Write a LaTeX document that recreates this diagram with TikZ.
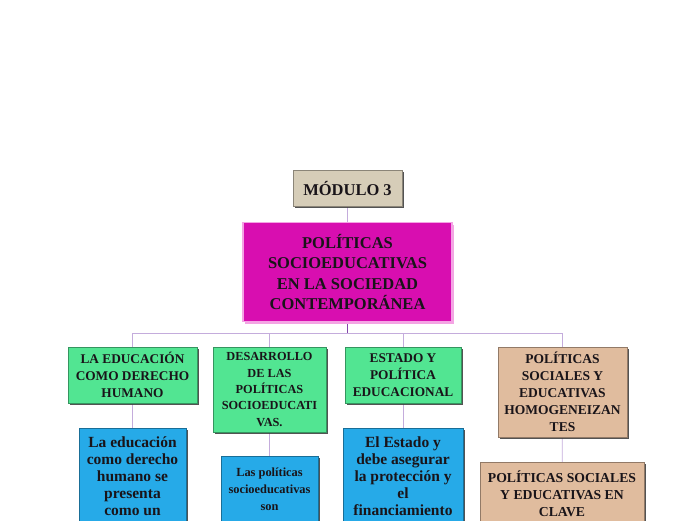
\documentclass[tikz,border=0pt]{standalone}
\usepackage{fontspec}
\setmainfont{Liberation Serif}
\usetikzlibrary{positioning, shadows, backgrounds}
\definecolor{mdBeige}{RGB}{214, 205, 184}
\definecolor{mdMagenta}{RGB}{216, 14, 176}
\definecolor{mdPink}{RGB}{244, 164, 228}
\definecolor{mdGreen}{RGB}{82, 229, 146}
\definecolor{mdBlue}{RGB}{38, 170, 232}
\definecolor{mdTan}{RGB}{224, 188, 158}
\definecolor{mdLine}{RGB}{196, 172, 220}
\definecolor{mdPurple}{RGB}{130, 70, 170}
\definecolor{mdInk}{RGB}{25, 20, 25}
\tikzset{
    base/.style={
        font=\bfseries\fontsize{13.3}{17}\selectfont,
        text=mdInk,
        align=center,
        inner xsep=2pt,
        inner ysep=4pt
    },
    box/.style={
        base,
        rectangle,
        draw=#1!65!black,
        fill=#1,
        line width=0.6pt,
        drop shadow={opacity=0.9, fill=black!75, shadow xshift=2pt, shadow yshift=-2pt}
    },
    title/.style={
        box=mdBeige,
        font=\bfseries\fontsize{16.5}{19}\selectfont,
        minimum width=109pt,
        minimum height=36pt
    },
    core/.style={
        base,
        rectangle,
        draw=mdPink,
        line width=1.5pt,
        fill=mdMagenta,
        font=\bfseries\fontsize{16.5}{20.5}\selectfont,
        minimum width=209pt,
        minimum height=99pt,
        drop shadow={opacity=1, fill=mdPink, shadow xshift=2pt, shadow yshift=-2pt}
    },
    topic/.style={
        box=mdGreen
    },
    theme/.style={
        box=mdTan,
        font=\bfseries\fontsize{13.5}{17}\selectfont
    },
    detail/.style={
        box=mdBlue,
        font=\bfseries\fontsize{15.5}{17}\selectfont,
        anchor=north,
        inner ysep=8pt,
        text depth=18pt
    },
    link/.style={
        draw=mdLine,
        line width=0.8pt
    }
}
\begin{document}
\begin{tikzpicture}[x=1pt, y=-1pt]
    \useasboundingbox (0,0) rectangle (696,520);
    \clip (0,0) rectangle (696,520);

    % Title and main topic
    \node[title] (modulo) at (347.5,188) {MÓDULO 3};
    \node[core] (main) at (347.5,272) {POLÍTICAS\\SOCIOEDUCATIVAS\\EN LA SOCIEDAD\\CONTEMPORÁNEA};

    % Subtopics
    \node[topic, minimum width=129pt, minimum height=56pt] (educ) at (132.5,375) {LA EDUCACIÓN\\COMO DERECHO\\HUMANO};
    \node[topic, minimum width=113pt, minimum height=85pt, font=\bfseries\fontsize{12.3}{16.3}\selectfont] (desa) at (269.5,389.5) {DESARROLLO\\DE LAS\\POLÍTICAS\\SOCIOEDUCATI\\VAS.};
    \node[topic, minimum width=116pt, minimum height=56pt] (estado) at (403,375) {ESTADO Y\\POLÍTICA\\EDUCACIONAL};
    \node[theme, minimum width=129pt, minimum height=90pt] (homog) at (562.5,392) {POLÍTICAS\\SOCIALES Y\\EDUCATIVAS\\HOMOGENEIZAN\\TES};

    % Details
    \node[detail, minimum width=107pt] (educdet) at (132.5,428) {La educación\\como derecho\\humano se\\presenta\\como un};
    \node[detail, minimum width=97pt, inner ysep=12pt, font=\bfseries\fontsize{12.4}{17}\selectfont] (desadet) at (269.5,456) {Las políticas\\socioeducativas\\son};
    \node[detail, minimum width=120pt] (estadodet) at (403,428) {El Estado y\\debe asegurar\\la protección y\\el\\financiamiento};
    \node[theme, anchor=north, minimum width=164pt, inner ysep=8pt, font=\bfseries\fontsize{13.7}{17}\selectfont, text depth=30pt] (clave) at (562,462) {POLÍTICAS SOCIALES\\Y EDUCATIVAS EN\\CLAVE};

    % Connectors
    \coordinate (bus) at (347.5,333);
    \begin{scope}[on background layer]
        \draw[link] (modulo) -- (main);
        \foreach \n in {educ, desa, estado, homog}
            \draw[link] (\n.north) |- (bus);
        \draw[link, draw=mdPurple] (main) -- (bus);
        \draw[link] (educ) -- (educdet);
        \draw[link] (desa) -- (desadet);
        \draw[link] (estado) -- (estadodet);
        \draw[link] (homog) -- (clave);
    \end{scope}
\end{tikzpicture}
\end{document}
